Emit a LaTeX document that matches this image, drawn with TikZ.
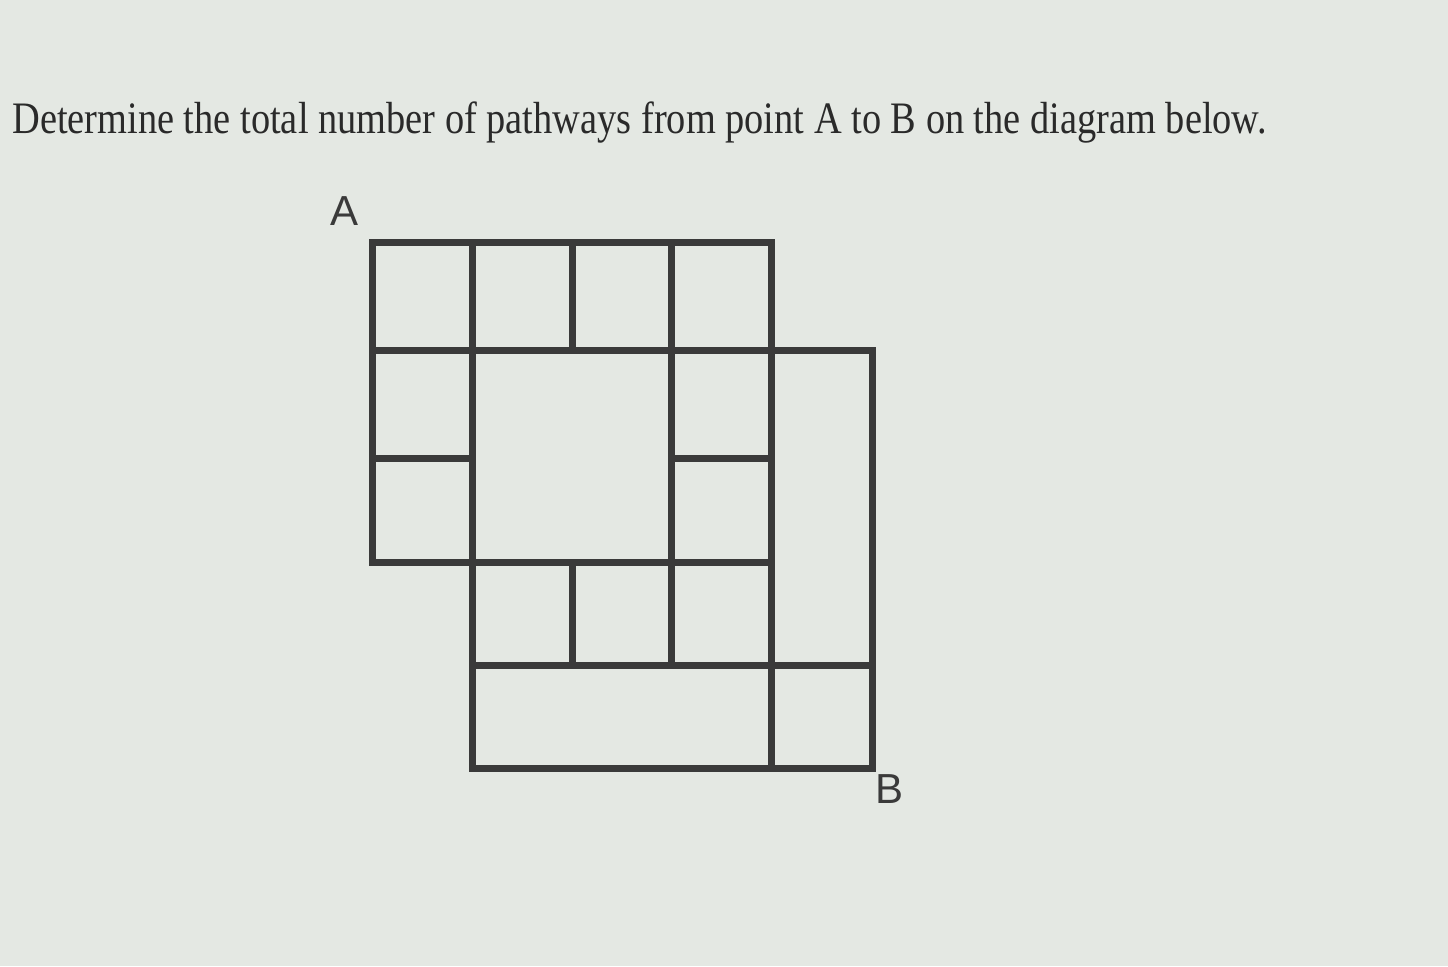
\documentclass[tikz,border=0pt]{standalone}
\usepackage{fontspec}
\setmainfont{Liberation Serif}
\newfontfamily\labelfont{Liberation Sans}
\definecolor{bg}{HTML}{E4E8E3}
\definecolor{ink}{HTML}{3A3A3A}
\definecolor{txt}{HTML}{2A2A2A}
\begin{document}
\begin{tikzpicture}[x=0.5pt,y=-0.5pt,
  cell/.style={draw=ink,line width=3.5pt,line join=miter},
  ptlabel/.style={text=ink,font=\labelfont\fontsize{21}{25}\selectfont,inner sep=0pt}]
\useasboundingbox[fill=bg] (0,0) rectangle (1448,966);
\def\xa{372}\def\xb{472}\def\xc{572}\def\xd{671}\def\xe{771}\def\xf{872}
\def\ya{242}\def\yb{350}\def\yc{458}\def\yd{562}\def\ye{665}\def\yf{768}
\node[anchor=base west,inner sep=0pt,text=txt,xscale=0.853,font=\fontsize{22.5}{27}\selectfont] (title) at (12,133)
  {Determine the total number of pathways from point A to B on the diagram below.};
% row 0
\draw[cell] (\xa,\ya) rectangle (\xb,\yb);
\draw[cell] (\xb,\ya) rectangle (\xc,\yb);
\draw[cell] (\xc,\ya) rectangle (\xd,\yb);
\draw[cell] (\xd,\ya) rectangle (\xe,\yb);
% rows 1-2
\draw[cell] (\xa,\yb) rectangle (\xb,\yc);
\draw[cell] (\xa,\yc) rectangle (\xb,\yd);
\draw[cell] (\xb,\yb) rectangle (\xd,\yd);
\draw[cell] (\xd,\yb) rectangle (\xe,\yc);
\draw[cell] (\xd,\yc) rectangle (\xe,\yd);
\draw[cell] (\xe,\yb) rectangle (\xf,\ye);
% row 3
\draw[cell] (\xb,\yd) rectangle (\xc,\ye);
\draw[cell] (\xc,\yd) rectangle (\xd,\ye);
\draw[cell] (\xd,\yd) rectangle (\xe,\ye);
% row 4
\draw[cell] (\xb,\ye) rectangle (\xe,\yf);
\draw[cell] (\xe,\ye) rectangle (\xf,\yf);
\node[ptlabel] (A) at (345,211) {A};
\node[ptlabel] (B) at (890,789) {B};
\end{tikzpicture}
\end{document}
